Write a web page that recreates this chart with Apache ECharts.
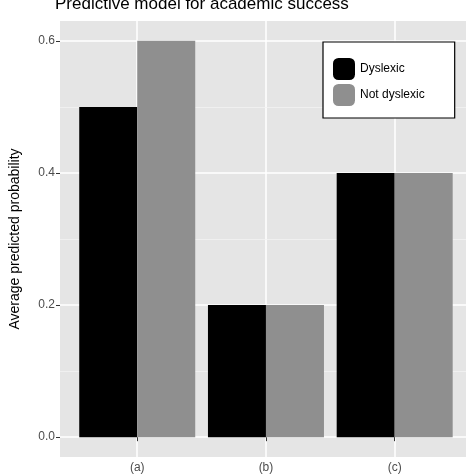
<!DOCTYPE html><html><head><meta charset="utf-8"><script src="https://cdn.jsdelivr.net/npm/echarts@6/dist/echarts.min.js"></script></head><body style="margin:0"><div id="c" style="width:474px;height:474px"></div><script>
const categories=['(a)','(b)','(c)'];
const dyslexic=[0.5,0.2,0.4];
const notDyslexic=[0.6,0.2,0.4];
const yTicks=[0,0.2,0.4,0.6];
const ch=echarts.init(document.getElementById('c'));
const pos=categories.map((c,i)=>i+1);
ch.setOption({
 backgroundColor:'#fff',
 title:{text:'Predictive model for academic success',left:50,top:-9,textStyle:{fontFamily:'Liberation Sans',fontWeight:'normal',fontSize:17,color:'#000'}},
 grid:{left:55,right:8,top:21,bottom:14,show:true,backgroundColor:'#e5e5e5',borderWidth:0},
 legend:{orient:'vertical',left:323,top:42,itemWidth:22,itemHeight:22,itemGap:4,padding:[16,30,12,10],backgroundColor:'#fff',borderColor:'#000',borderWidth:1.2,textStyle:{fontFamily:'Liberation Sans',fontSize:12,color:'#000'},data:['Dyslexic','Not dyslexic']},
 xAxis:{type:'value',min:0.4,max:3.554,axisLine:{show:false},
  axisTick:{customValues:pos,length:4,lineStyle:{color:'#333'}},
  axisLabel:{customValues:pos,formatter:v=>categories[Math.round(v)-1],color:'#4d4d4d',fontSize:12,fontFamily:'Liberation Sans',margin:5},
  splitLine:{show:true,lineStyle:{color:'#fff',width:1.5}}},
 yAxis:{type:'value',min:-0.03,max:0.63,name:'Average predicted probability',nameLocation:'middle',nameGap:38,nameTextStyle:{fontFamily:'Liberation Sans',fontSize:14,color:'#000'},
  axisLine:{show:false},
  axisTick:{customValues:yTicks,length:4,lineStyle:{color:'#333'}},
  axisLabel:{customValues:yTicks,formatter:v=>v.toFixed(1),color:'#4d4d4d',fontSize:12,fontFamily:'Liberation Sans',margin:5},
  splitLine:{show:true,lineStyle:{color:'#fff',width:1.5}}},
 series:[
  {name:'Dyslexic',type:'bar',barWidth:58,barGap:'0%',itemStyle:{color:'#000'},data:pos.map((p,i)=>[p,dyslexic[i]]),
   markLine:{silent:true,symbol:'none',label:{show:false},lineStyle:{color:'#f2f2f2',width:0.8,type:'solid'},data:[{yAxis:0.1},{yAxis:0.3},{yAxis:0.5}],z:0}},
  {name:'Not dyslexic',type:'bar',barWidth:58,barGap:'0%',itemStyle:{color:'#8f8f8f'},data:pos.map((p,i)=>[p,notDyslexic[i]])}
 ]});
</script></body></html>
